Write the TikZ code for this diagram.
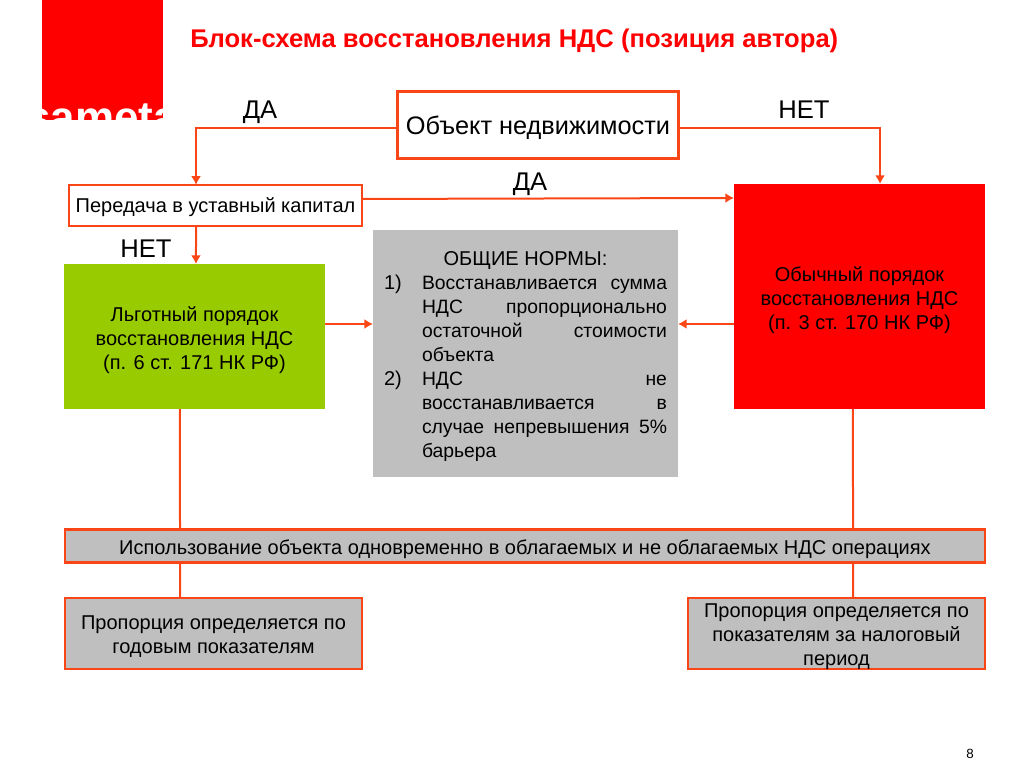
\documentclass[tikz,border=0pt]{standalone}
\usepackage{fontspec}
\setmainfont{Liberation Sans}
\usetikzlibrary{arrows.meta}
\definecolor{lineorange}{HTML}{FA4616}
\definecolor{boxgray}{HTML}{BFBFBF}
\definecolor{boxgreen}{HTML}{99CC00}
\newcommand{\normline}[2]{\makebox[28.5pt][l]{#1}\makebox[183.75pt][s]{\fontsize{14.5}{18}\selectfont #2}}
\tikzset{
	textbox/.style={draw=lineorange, line width=1.8pt, fill=white, align=center, inner sep=0pt, outer sep=0pt, text depth=0pt},
	graybox/.style={textbox, fill=boxgray},
	solidbox/.style={align=center, inner sep=0pt, outer sep=0pt, text depth=0pt},
	conn/.style={draw=lineorange, line width=1.5pt},
	answer/.style={anchor=base, inner sep=0pt, font=\fontsize{19.2}{19.2}\selectfont}
}
\begin{document}
\begin{tikzpicture}[x=0.75pt,y=-0.75pt,>={Latex[length=6.5pt,width=7.5pt]},font=\fontsize{15}{18}\selectfont]
	\useasboundingbox (0,0) rectangle (1024,768);
	\fill[red] (42,0) rectangle (163,120);
	\begin{scope}
		\clip (42,0) rectangle (163,120);
		\node (logo) [anchor=base, inner sep=0pt, text=white, font=\fontsize{33}{33}\selectfont\bfseries] at (102,132) {sameta};
	\end{scope}
	\node (title) [anchor=west, inner sep=0pt, text=red, font=\fontsize{19.2}{22}\selectfont\bfseries] at (190,41) {Блок-схема восстановления НДС (позиция автора)};
	\node (n0) [textbox, minimum width=211pt, minimum height=50pt, font=\fontsize{19}{22}\selectfont] at (538,125) {Объект недвижимости};
	\node (n1) [textbox, minimum width=220pt, minimum height=31pt] at (215.5,205.5) {Передача в уставный капитал};
	\node (n2) [solidbox, fill=boxgreen, minimum width=195.75pt, minimum height=108.75pt, text height=49pt] at (194.5,336.5) {Льготный порядок\\восстановления НДС\\(п. 6 ст. 171 НК РФ)};
	\node (n3) [solidbox, fill=red, minimum width=188.25pt, minimum height=168.75pt, text height=49pt] at (859.5,296.5) {Обычный порядок\\восстановления НДС\\(п. 3 ст. 170 НК РФ)};
	\node (n4) [solidbox, fill=boxgray, minimum width=228.75pt, minimum height=185.25pt, align=left, text height=156pt] at (525.5,353.5) {\makebox[212.25pt][c]{ОБЩИЕ НОРМЫ:}\\
		\normline{1)}{Восстанавливается сумма}\\
		\normline{}{НДС пропорционально}\\
		\normline{}{остаточной стоимости}\\
		\normline{}{объекта}\\
		\normline{2)}{НДС не}\\
		\normline{}{восстанавливается в}\\
		\normline{}{случае непревышения 5\%}\\
		\normline{}{барьера}};
	\node (n5) [graybox, minimum width=690pt, minimum height=24.5pt, text height=12pt] at (525,546) {Использование объекта одновременно в облагаемых и не облагаемых НДС операциях};
	\node (n6) [graybox, minimum width=223pt, minimum height=53.5pt, text height=30pt] at (213.5,633.5) {Пропорция определяется по\\годовым показателям};
	\node (n7) [graybox, minimum width=223pt, minimum height=53.5pt, text height=48pt] at (836.5,633.5) {Пропорция определяется по\\показателям за налоговый\\период};
	\node (yes1) [answer] at (260,118) {ДА};
	\node (no1) [answer] at (804,118) {НЕТ};
	\node (yes2) [answer] at (530,190) {ДА};
	\node (no2) [answer] at (146,257) {НЕТ};
	\node (pagenum) [inner sep=0pt, font=\fontsize{10}{12}\selectfont] at (970,754) {8};
	\draw[conn,->] ([yshift=-2pt]n0.west) -| ([xshift=-14.6pt]n1.north);
	\draw[conn,->] ([yshift=-2pt]n0.east) -| ([xshift=15.4pt]n3.north);
	\draw[conn,->] ([yshift=4.9pt]n1.east) -- ([yshift=-10.5pt]n3.north west);
	\draw[conn,->] ([xshift=-14.6pt]n1.south) -- ([xshift=1.1pt]n2.north);
	\draw[conn,->] ([yshift=9.4pt]n2.east) -- ([yshift=9.4pt]n2.east -| n4.west);
	\draw[conn,->] ([yshift=-20.6pt]n3.west) -- ([yshift=-20.6pt]n3.west -| n4.east);
	\draw[conn] ([xshift=-10.9pt]n2.south) -- ([xshift=-258.75pt]n5.north);
	\draw[conn] ([xshift=-4.9pt]n3.south) -- ([xshift=246pt]n5.north);
	\draw[conn] ([xshift=-258.75pt]n5.south) -- ([xshift=-25.1pt]n6.north);
	\draw[conn] ([xshift=246pt]n5.south) -- ([xshift=12.4pt]n7.north);
\end{tikzpicture}
\end{document}
